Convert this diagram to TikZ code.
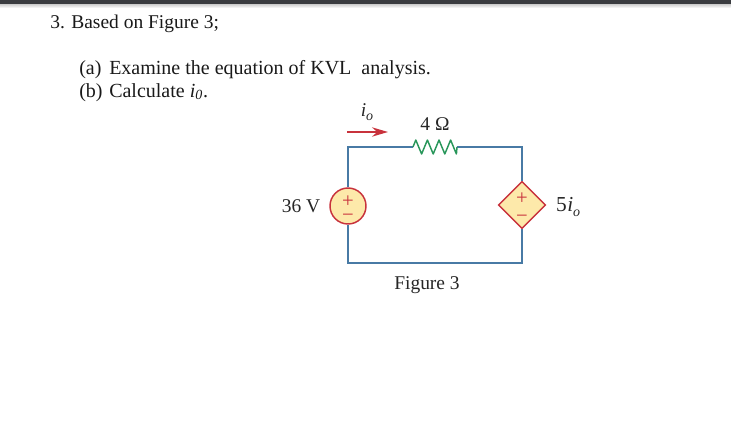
\documentclass[tikz,border=0pt]{standalone}
\usepackage{fontspec}
\setmainfont{Liberation Serif}
\usetikzlibrary{shapes.geometric,arrows.meta}
\definecolor{wireblue}{RGB}{72,122,165}
\definecolor{resgreen}{RGB}{40,150,90}
\definecolor{srcred}{RGB}{200,50,60}
\definecolor{srcfill}{RGB}{253,233,170}
\definecolor{topbar}{RGB}{58,60,64}
\newcommand{\subio}{\textit{i}\kern-0.2pt\raisebox{-3.5pt}{\fontsize{10.5}{12}\selectfont\textit{o}}}
\tikzset{
  txt/.style={anchor=base west,inner sep=0pt,font=\fontsize{15}{17}\selectfont,text=black!90},
  lbl/.style={inner sep=0pt,font=\fontsize{14.6}{17}\selectfont,text=black!85},
  wire/.style={wireblue,line width=1.1pt},
  src/.style={circle,draw=srcred,fill=srcfill,line width=1.1pt,minimum size=27pt,inner sep=0pt},
  depsrc/.style={diamond,draw=srcred,fill=srcfill,line width=1.1pt,minimum size=35.5pt,inner sep=0pt},
  sign/.style={inner sep=0pt,align=center,font=\fontsize{15.5}{10.5}\selectfont,text=srcred}
}
\begin{document}
\begin{tikzpicture}[x=0.75pt,y=-0.75pt]
\useasboundingbox (0,0) rectangle (731,429);
% page edge
\shade[top color=black!25,bottom color=white] (0,3) rectangle (731,8);
\fill[topbar] (0,0) rectangle (731,3.5);
% question
\node[txt,font=\fontsize{14.6}{17}\selectfont] (title) at (50,28) {3. Based on Figure 3;};
\node[txt] (parta) at (79,74) {(a)};
\node[txt] (texta) at (109,74) {Examine the equation of KVL\ \ analysis.};
\node[txt] (partb) at (79,97) {(b)};
\node[txt] (textb) at (109,97) {Calculate \textit{i\textsubscript{0}}.};
% circuit
\node[src] (vs) at (348,206) {};
\node[depsrc] (vd) at (522,205) {};
\coordinate (tl) at (348,147);
\coordinate (tr) at (522,147);
\coordinate (bl) at (348,263);
\coordinate (br) at (522,263);
\coordinate (rl) at (413,147);
\coordinate (rr) at (457,147);
\draw[wire] (vs) -- (tl) -- (rl);
\draw[wire] (rr) -- (tr) -- (vd);
\draw[wire] (vd) -- (br) -- (bl) -- (vs);
\draw[resgreen,line width=1.1pt,line join=round] (rl) -- ++(2.8,-7) -- ++(5.8,14) -- ++(5.8,-14) -- ++(5.8,14) -- ++(5.8,-14) -- ++(5.8,14) -- ++(5.8,-14) -- ++(5.8,14) -- (rr);
\node[sign] (vssign) at (348,209) {+\\\textminus};
\node[sign] (vdsign) at (522,208) {+\\[3pt]\textminus};
% current arrow
\coordinate (ia) at (347,132);
\coordinate (ib) at (388,132);
\draw[srcred,line width=1.2pt,-{Stealth[length=12pt,width=7pt]}] (ia) -- (ib);
\node[lbl] (io) at (367,112) {\subio};
% labels
\node[lbl] (rlab) at (435,124) {4 Ω};
\node[lbl] (vlab) at (301,206) {36 V};
\node[lbl,font=\fontsize{16}{18}\selectfont] (dlab) at (568,207) {5\kern0.5pt\subio};
\node[lbl] (fig) at (427,285) {Figure 3};
\end{tikzpicture}
\end{document}
